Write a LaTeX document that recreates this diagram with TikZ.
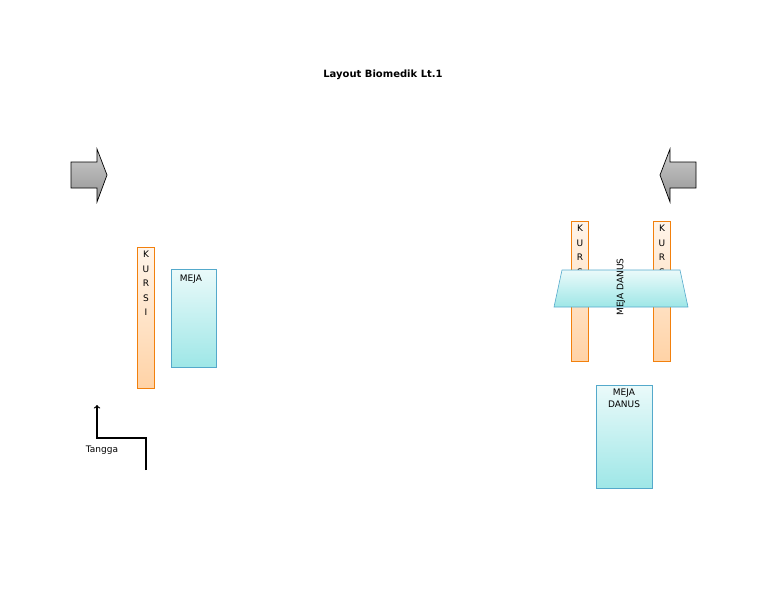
\documentclass[tikz,border=0pt]{standalone}
\usepackage{fontspec}
\setmainfont{DejaVu Sans}
\begin{document}
\begin{tikzpicture}[x=1pt,y=-1pt,
  kursi/.style={draw=orange!80!brown,top color=orange!8,bottom color=orange!35,line width=0.6pt},
  meja/.style={draw=cyan!50!teal!80,top color=cyan!50!teal!8,bottom color=cyan!50!teal!38,line width=0.6pt},
  arr/.style={draw=black,top color=gray!40,bottom color=gray!85,line width=0.7pt},
  lbl/.style={font=\fontsize{9}{10}\selectfont,inner sep=0pt}]
\useasboundingbox (0,0) rectangle (768,594);
\node[font=\bfseries\fontsize{10}{11}\selectfont] (title) at (383,75) {Layout Biomedik Lt.1};
% arrows
\path[arr] (71,162) -- (97,162) -- (97,149) -- (107,175) -- (97,202) -- (97,188) -- (71,188) -- cycle;
\path[arr] (696,162) -- (670,162) -- (670,149) -- (660,175) -- (670,202) -- (670,188) -- (696,188) -- cycle;
% left
\path[kursi] (137,247) rectangle (154,388);
\node[lbl,anchor=north,align=center,font=\fontsize{9}{14.5}\selectfont] (k1) at (146,251) {K\\U\\R\\S\\I};
\path[meja] (171,269) rectangle (216,367);
\node[lbl] (m1) at (191,279) {MEJA};
% tangga
\coordinate (t1) at (146,470);
\coordinate (t2) at (97,405);
\draw[line width=1.3pt,->] (t1) |- (97,438) -- (t2);
\node[lbl] (tg) at (102,450) {Tangga};
% right chairs
\path[kursi] (571,221) rectangle (588,361);
\path[kursi] (653,221) rectangle (670,361);
\node[lbl,anchor=north,align=center,font=\fontsize{9}{14.5}\selectfont] (k2) at (580,225) {K\\U\\R\\S};
\node[lbl,anchor=north,align=center,font=\fontsize{9}{14.5}\selectfont] (k3) at (662,225) {K\\U\\R\\S};
\path[meja] (562,270) -- (680,270) -- (688,307) -- (554,307) -- cycle;
\node[lbl,rotate=90] (md) at (621,287) {MEJA DANUS};
\path[meja] (596,385) rectangle (652,488);
\node[lbl,anchor=north,align=center,font=\fontsize{9}{12}\selectfont] (md2) at (624,389) {MEJA\\DANUS};
\end{tikzpicture}
\end{document}
